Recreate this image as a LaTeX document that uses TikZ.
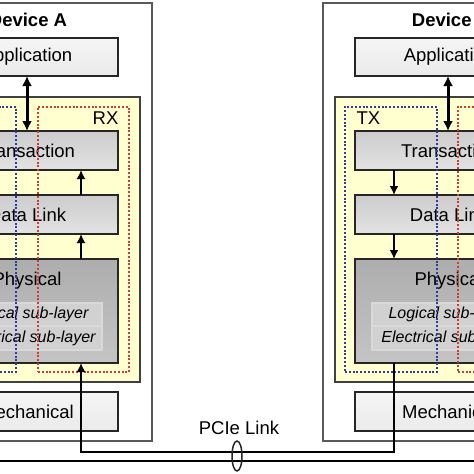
\documentclass[tikz,border=0pt]{standalone}
\usepackage{fontspec}
\setmainfont{Liberation Sans}
\usetikzlibrary{arrows.meta,shapes.geometric,calc}
\definecolor{dotred}{RGB}{205,60,60}
\definecolor{dotblue}{RGB}{50,60,150}
\definecolor{stackyel}{RGB}{255,255,208}
\begin{document}
\begin{tikzpicture}[x=1pt,y=-1pt,
  box/.style={rectangle,inner sep=0pt,outer sep=0pt},
  devbox/.style={box,draw=black!65,line width=1.4pt,fill=white},
  stackbg/.style={box,draw=black!75,line width=1.4pt,fill=stackyel},
  txt/.style={font=\fontsize{18.5}{20}\selectfont},
  subtxt/.style={font=\fontsize{16}{18}\selectfont\itshape},
  layer/.style={box,draw=black!85,line width=2pt,txt},
  lightlayer/.style={layer,top color=black!4,bottom color=black!8},
  greylayer/.style={layer,top color=black!20,bottom color=black!11},
  physlayer/.style={layer,top color=black!32,bottom color=black!23},
  sublayer/.style={box,draw=white!85!black,line width=1.2pt,fill=black!18,subtxt},
  rxbox/.style={box,draw=dotred,line width=2pt,dash pattern=on 2pt off 1.8pt},
  txbox/.style={box,draw=dotblue,line width=2pt,dash pattern=on 2pt off 1.8pt},
  dbl/.style={line width=3pt,{Latex[length=10pt,width=10pt]}-{Latex[length=10pt,width=10pt]}},
  up/.style={line width=2.8pt,-{Latex[length=9pt,width=9pt]}},
  wire/.style={line width=2.6pt},
  link/.style={draw=black!85,line width=1.5pt,ellipse,minimum width=10pt,minimum height=30pt,inner sep=0pt}
]
\useasboundingbox (0,0) rectangle (474,474);
\clip (0,0) rectangle (474,474);
\fill[white] (0,0) rectangle (474,474);

% ---------- Device A ----------
\node[devbox,minimum width=252pt,minimum height=438pt] (devA) at (26,222) {};
\node[txt,font=\fontsize{18.5}{20}\selectfont\bfseries] (devAtxt) at (28,20) {Device A};
\node[stackbg,minimum width=230pt,minimum height=285pt] (stackA) at (25,239.5) {};
\node[lightlayer,minimum width=182pt,minimum height=38pt] (appA) at (27,57) {Application};
\node[greylayer,minimum width=182pt,minimum height=39pt] (transA) at (27,150.5) {Transaction};
\node[greylayer,minimum width=182pt,minimum height=39pt] (dlA) at (27,214.5) {Data Link};
\node[physlayer,minimum width=182pt,minimum height=104pt] (physA) at (27,311) {};
\node[txt] (physAtxt) at ($(physA.north)+(0,22)$) {Physical};
\node[sublayer,minimum width=148pt,minimum height=23pt] (logA) at (28,314.5) {Logical sub-layer};
\node[sublayer,minimum width=148pt,minimum height=24pt] (elecA) at (28,338) {Electrical sub-layer};
\node[lightlayer,minimum width=182pt,minimum height=39pt] (mechA) at (27,411.5) {Mechanical};
\node[rxbox,minimum width=91pt,minimum height=265pt] (rxA) at (83.5,239.5) {};
\node[txbox,minimum width=92pt,minimum height=265pt] (txA) at (-30,239.5) {};
\node[txt] (rxlbl) at (105.5,118) {RX};

% ---------- Device B ----------
\node[devbox,minimum width=252pt,minimum height=438pt] (devB) at (449,222) {};
\node[txt,font=\fontsize{18.5}{20}\selectfont\bfseries] (devBtxt) at (451,20) {Device B};
\node[stackbg,minimum width=230pt,minimum height=285pt] (stackB) at (450,239.5) {};
\node[lightlayer,minimum width=188pt,minimum height=38pt] (appB) at (449,57) {Application};
\node[greylayer,minimum width=188pt,minimum height=39pt] (transB) at (449,150.5) {Transaction};
\node[greylayer,minimum width=188pt,minimum height=39pt] (dlB) at (449,214.5) {Data Link};
\node[physlayer,minimum width=188pt,minimum height=104pt] (physB) at (449,311) {};
\node[txt] (physBtxt) at ($(physB.north)+(0,22)$) {Physical};
\node[sublayer,minimum width=154pt,minimum height=23pt] (logB) at (449,314.5) {Logical sub-layer};
\node[sublayer,minimum width=154pt,minimum height=24pt] (elecB) at (449,338) {Electrical sub-layer};
\node[lightlayer,minimum width=188pt,minimum height=39pt] (mechB) at (449,411.5) {Mechanical};
\node[txbox,minimum width=92pt,minimum height=265pt] (txB) at (391,239.5) {};
\node[rxbox,minimum width=92pt,minimum height=265pt] (rxB) at (504,239.5) {};
\node[txt] (txlbl) at (368.5,118) {TX};

% ---------- arrows ----------
\coordinate (xA1) at (27,0);
\coordinate (xA2) at (81,0);
\coordinate (xB1) at (448,0);
\coordinate (xB2) at (394,0);
\draw[dbl] (appA.south -| xA1) -- (transA.north -| xA1);
\draw[up] (dlA.north -| xA2) -- (transA.south -| xA2);
\draw[up] (physA.north -| xA2) -- (dlA.south -| xA2);
\draw[dbl] (appB.south -| xB1) -- (transB.north -| xB1);
\draw[up] (transB.south -| xB2) -- (dlB.north -| xB2);
\draw[up] (dlB.south -| xB2) -- (physB.north -| xB2);

% ---------- PCIe link ----------
\coordinate (wy) at (0,452);
\draw[wire,-{Latex[length=9pt,width=9pt]}] (physB.south -| xB2) -- (wy -| xB2) -- (wy -| xA2) -- (physA.south -| xA2);
\coordinate (lnL) at (-10,461);
\coordinate (lnR) at (490,461);
\draw[wire] (lnL) -- (lnR);
\node[link] (ell) at (237,456) {};
\node[txt] (pcie) at (239,428) {PCIe Link};
\end{tikzpicture}
\end{document}
